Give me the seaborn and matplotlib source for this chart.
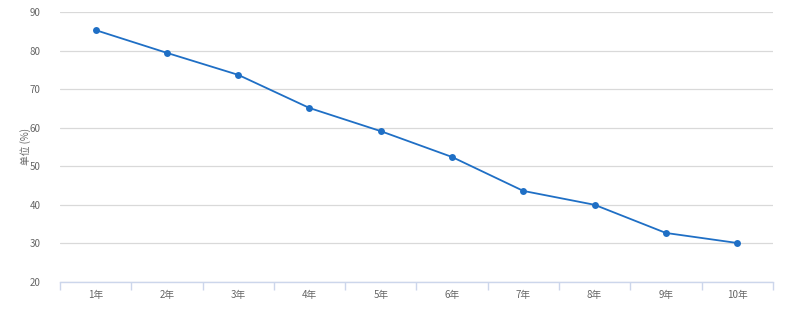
import matplotlib
matplotlib.use("Agg")
import matplotlib.pyplot as plt
import seaborn as sns
import numpy as np
import pandas as pd

years = ["1年", "2年", "3年", "4年", "5年", "6年", "7年", "8年", "9年", "10年"]
values = [85.3, 79.4, 73.7, 65.1, 59.1, 52.4, 43.6, 40.0, 32.7, 30.1]
y_ticks = [20, 30, 40, 50, 60, 70, 80, 90]
y_label = "单位 (%)"

sns.set_theme(style="white")
plt.rcParams['font.family'] = ['Noto Sans CJK SC', 'DejaVu Sans']

df = pd.DataFrame({"year": years, "value": values})

fig = plt.figure(figsize=(8, 3.2), dpi=100)
ax = fig.add_axes([0.075, 0.119, 0.891, 0.8435])

sns.lineplot(data=df, x="year", y="value", ax=ax, color="#1f6fc5",
             linewidth=1.3, marker="o", markersize=5, markeredgewidth=0, sort=False)

ax.set_ylim(20, 90)
ax.set_yticks(y_ticks)
ax.set_xlim(-0.5, len(years) - 0.5)
ax.yaxis.grid(True, color="#d9d9d9", linewidth=0.9)
ax.set_axisbelow(True)
for s in ["top", "right", "left"]:
    ax.spines[s].set_visible(False)
ax.spines["bottom"].set_color("#ccd6eb")
ax.spines["bottom"].set_linewidth(1)

ax.set_xticks(range(len(years)))
ax.set_xticklabels(years)
ax.set_xticks(np.arange(-0.5, len(years), 1.0), minor=True)
ax.tick_params(axis="x", which="major", bottom=False, length=0, labelsize=7,
               labelcolor="#666666", pad=6)
ax.tick_params(axis="x", which="minor", bottom=True, length=6, color="#ccd6eb",
               width=1, direction="out")
ax.tick_params(axis="y", length=0, labelsize=7, labelcolor="#666666", pad=22)
for lbl in ax.get_yticklabels():
    lbl.set_horizontalalignment("left")
ax.set_xlabel("")
ax.set_ylabel(y_label, fontsize=7, color="#666666")
ax.yaxis.set_label_coords(-0.041, 0.5)

fig.savefig("out.png", dpi=100)
